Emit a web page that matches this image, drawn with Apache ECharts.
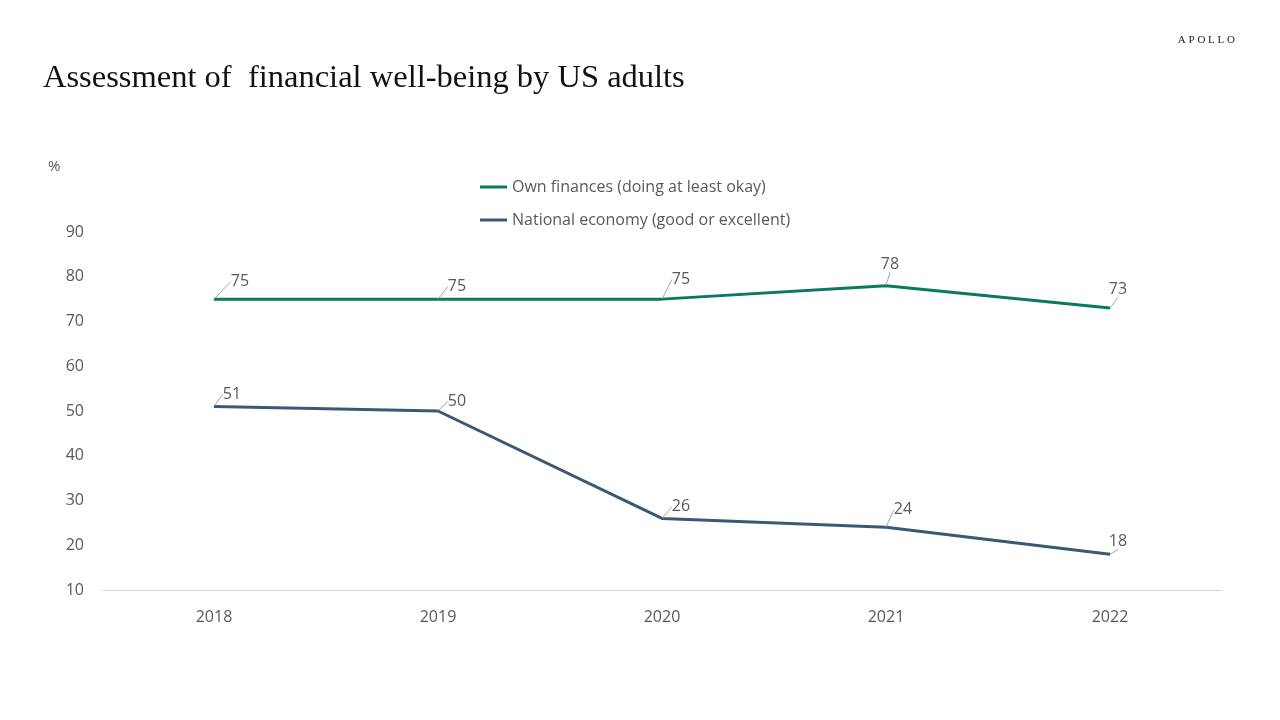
<!DOCTYPE html>
<html>
<head>
<meta charset="utf-8">
<script src="https://cdn.jsdelivr.net/npm/echarts@6/dist/echarts.min.js"></script>
<style>
  html, body { margin: 0; padding: 0; background: #fff; }
  #chart { width: 1280px; height: 720px; }
</style>
</head>
<body>
<div id="chart"></div>
<script>
// data
var years = ['2018', '2019', '2020', '2021', '2022'];
var ownFinances = [75, 75, 75, 78, 73];
var nationalEconomy = [51, 50, 26, 24, 18];
var seriesNames = ['Own finances (doing at least okay)', 'National economy (good or excellent)'];

// label nudges (dx, dy) so the value labels sit like the original
var labelShift = [
    [[26, -4], [19, 1], [19, -6], [4, -8], [8, -5]],
    [[18, 1], [19, 4], [19, 2], [17, -4], [8, 1]]
];

var green = '#0a7a5e',
    navy = '#3b5877',
    grey = '#595959',
    font = '"Open Sans", "Noto Sans", sans-serif';

function makeSeries(name, values, color, idx) {
    return {
        name: name,
        type: 'line',
        data: values,
        symbol: 'circle',
        symbolSize: 1,
        itemStyle: { color: color },
        lineStyle: { color: color, width: 3 },
        label: {
            show: true,
            position: 'top',
            distance: 5,
            color: grey,
            fontSize: 16,
            fontFamily: font
        },
        labelLine: {
            show: true,
            lineStyle: { color: '#a6a6a6', width: 1 }
        },
        labelLayout: function (p) {
            var s = labelShift[idx][p.dataIndex];
            return { dx: s[0], dy: s[1] };
        },
        emphasis: { disabled: true }
    };
}

var chart = echarts.init(document.getElementById('chart'));

chart.setOption({
    animation: false,
    backgroundColor: '#ffffff',
    title: [
        {
            text: 'Assessment of  financial well-being by US adults',
            left: 38,
            top: 57,
            textStyle: {
                fontFamily: '"Liberation Serif", "DejaVu Serif", serif',
                fontWeight: 'normal',
                fontSize: 32.5,
                color: '#111'
            }
        },
        {
            text: 'A P O L L O',
            right: 40,
            top: 30,
            textStyle: {
                fontFamily: '"Liberation Serif", serif',
                fontWeight: 'normal',
                fontSize: 11,
                color: '#222'
            }
        },
        {
            text: '%',
            left: 43,
            top: 154,
            textStyle: { fontFamily: font, fontWeight: 'normal', fontSize: 15, color: grey }
        }
    ],
    legend: {
        orient: 'vertical',
        left: 475,
        top: 172,
        itemWidth: 27,
        itemHeight: 3,
        itemGap: 13,
        icon: 'rect',
        padding: [5, 5, 5, 5],
        textStyle: { fontFamily: font, fontSize: 16, color: grey, lineHeight: 20 },
        data: seriesNames
    },
    grid: { left: 102, right: 58, top: 232, bottom: 130 },
    xAxis: {
        type: 'category',
        data: years,
        boundaryGap: true,
        axisLine: { lineStyle: { color: '#d9d9d9', width: 1 } },
        axisTick: { show: false },
        axisLabel: { color: grey, fontSize: 16, fontFamily: font, margin: 19 }
    },
    yAxis: {
        type: 'value',
        min: 10,
        max: 90,
        interval: 10,
        axisLine: { show: false },
        axisTick: { show: false },
        splitLine: { show: false },
        axisLabel: { color: grey, fontSize: 16, fontFamily: font, margin: 18 }
    },
    series: [
        makeSeries(seriesNames[0], ownFinances, green, 0),
        makeSeries(seriesNames[1], nationalEconomy, navy, 1)
    ]
});
</script>
</body>
</html>
